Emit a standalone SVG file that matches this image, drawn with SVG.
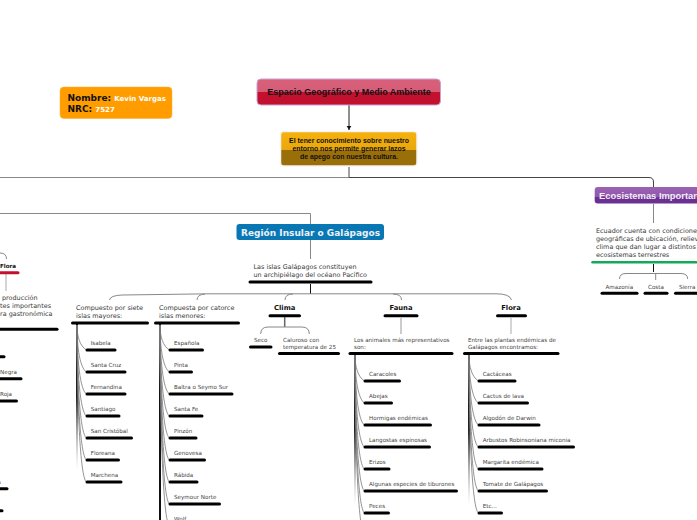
<svg xmlns="http://www.w3.org/2000/svg" width="697" height="520" viewBox="0 0 697 520">
<defs>
<linearGradient id="red" x1="0" y1="0" x2="0" y2="1"><stop offset="0" stop-color="#d8607a"/><stop offset=".5" stop-color="#d45c76"/><stop offset=".5" stop-color="#c2102f"/><stop offset="1" stop-color="#c2102f"/></linearGradient>
<linearGradient id="amber" x1="0" y1="0" x2="0" y2="1"><stop offset="0" stop-color="#f6b20e"/><stop offset=".53" stop-color="#e9a70c"/><stop offset=".53" stop-color="#9a6e08"/><stop offset="1" stop-color="#9a6e08"/></linearGradient>
<linearGradient id="purple" x1="0" y1="0" x2="0" y2="1"><stop offset="0" stop-color="#9b62b4"/><stop offset=".6" stop-color="#9058aa"/><stop offset=".6" stop-color="#6c2f92"/><stop offset="1" stop-color="#6c2f92"/></linearGradient>
<linearGradient id="tA" gradientUnits="userSpaceOnUse" x1="0" y1="324" x2="0" y2="470"><stop offset="0" stop-color="#111"/><stop offset=".5" stop-color="#222"/><stop offset="1" stop-color="#999" stop-opacity="0"/></linearGradient>
<linearGradient id="tB" gradientUnits="userSpaceOnUse" x1="0" y1="355" x2="0" y2="505"><stop offset="0" stop-color="#111"/><stop offset=".5" stop-color="#222"/><stop offset="1" stop-color="#999" stop-opacity="0"/></linearGradient>
<marker id="arrow" markerUnits="userSpaceOnUse" markerWidth="6" markerHeight="6" refX="4" refY="3" orient="auto"><path d="M0,0.7 L4,3 L0,5.3 Z" fill="#111"/></marker>
</defs>
<style>
text{font-family:"DejaVu Sans",Verdana,sans-serif;fill:#444}
.s{font-size:5.6px}
.m{font-size:6.45px;fill:#3a3a3a}
.h{font-size:6.8px;font-weight:bold;fill:#111}
.a{font-family:"Liberation Sans",Arial,sans-serif;font-weight:bold;fill:#111}
.u{stroke:#000;stroke-width:3;stroke-linecap:round;fill:none}
.c{stroke:#888;stroke-width:1;fill:none}
.f{stroke:#777;stroke-width:.8;fill:none}
.t{stroke:#111;stroke-width:2;fill:none}
</style>
<rect width="697" height="520" fill="#fff"/>
<g id="connectors">
<path d="M349 105V130" stroke="#444" stroke-width="1.200" fill="none" marker-end="url(#arrow)"/>
<path d="M349 167V177.500H649Q653.500 177.500 653.500 182V187" stroke="#444" stroke-width="1" fill="none"/>
<path d="M0 177.500H349" stroke="#888" stroke-width="1" fill="none"/>
<path d="M0 213.500H310.500V224" class="c"/>
<path d="M310.500 240V259" class="c"/>
<path d="M310.500 284V294" stroke="#111" stroke-width="1" fill="none"/>
<path d="M109.500 300Q110 295.500 122 295L210 293.800H496Q510 293.800 511.500 300M197 300Q197 294.500 205 294M285 300Q285 294 293 294M393 294Q401.500 294 401.500 300" class="c"/>
<path d="M284.700 317V327" stroke="#666" stroke-width="1.500" fill="none"/>
<path d="M260.700 334Q260.700 327 268 327H302Q309.300 327 309.300 334" class="c"/>
<path d="M401 318V334" stroke="#bbb" stroke-width="1.500" fill="none"/>
<path d="M511 318V334" stroke="#aaa" stroke-width="1" fill="none"/>
<path d="M0 253Q6.500 253 6.500 259" class="c"/>
<path d="M6 274V291" stroke="#aaa" stroke-width="1" fill="none"/>
<path d="M653.500 204V223" class="c"/>
<path d="M653.500 264V272" stroke="#111" stroke-width="1" fill="none"/>
<path d="M619.500 279Q619.500 273.500 626 273.500H681Q687.700 273.500 687.700 279M655.700 273.500V280" class="c"/>
<path d="M77 324V470" stroke="url(#tA)" stroke-width="2" fill="none"/>
<path d="M160 324V520" class="t"/>
<path d="M355 355V505" stroke="url(#tB)" stroke-width="2" fill="none"/>
<path d="M469 355V505" stroke="url(#tB)" stroke-width="2" fill="none"/>
<path class="f" d="M77 325C77 337 80 346 86.500 350M77 325C77 348 80 368 86.500 372M77 325C77 359 80 390 86.500 394M77 325C77 370 80 412 86.500 416M77 325C77 381 80 434 86.500 438M77 325C77 392 80 456 86.500 460M77 325C77 403 80 478 86.500 482"/>
<path class="f" d="M160 325C160 337 163 346 169.500 350M160 325C160 348 163 368 169.500 372M160 325C160 359 163 390 169.500 394M160 325C160 370 163 412 169.500 416M160 325C160 381 163 434 169.500 438M160 325C160 392 163 456 169.500 460M160 325C160 403 163 478 169.500 482M160 325C160 414 163 500 169.500 504M160 325C160 425 163 522 169.500 526"/>
<path class="f" d="M355 355C355 367 358 377 364.500 381M355 355C355 378 358 399 364.500 403M355 355C355 389 358 421 364.500 425M355 355C355 400 358 443 364.500 447M355 355C355 411 358 465 364.500 469M355 355C355 422 358 487 364.500 491M355 355C355 433 358 509 364.500 513M355 355C355 444 358 531 364.500 535"/>
<path class="f" d="M469 355C469 367 472 377 478.500 381M469 355C469 378 472 399 478.500 403M469 355C469 389 472 421 478.500 425M469 355C469 400 472 443 478.500 447M469 355C469 411 472 465 478.500 469M469 355C469 422 472 487 478.500 491M469 355C469 433 472 509 478.500 513"/>
</g>
<g id="info"><rect x="60" y="87" width="112" height="31.500" rx="4" fill="#ff9c00" stroke="#ffb030" stroke-width=".5"/><text x="67.500" y="101" style="font-size:9px;font-weight:bold;fill:#111">Nombre: <tspan style="font-size:7px;fill:#fff">Kevin Vargas</tspan></text><text x="67.500" y="112" style="font-size:9px;font-weight:bold;fill:#111">NRC: <tspan style="font-size:7px;fill:#fff">7527</tspan></text></g>
<g id="root"><rect x="257" y="79" width="183.500" height="26" rx="4" fill="url(#red)" stroke="#c9a3d0"/><text class="a" x="349" y="95" text-anchor="middle" style="font-size:9px">Espacio Geográfico y Medio Ambiente</text></g>
<g id="intro"><rect x="280.500" y="131.500" width="136.500" height="34.500" rx="3" fill="url(#amber)" stroke="#f4f4f4" stroke-width="1.500"/><text class="a" x="349" y="143" text-anchor="middle" style="font-size:6.900px">El tener conocimiento sobre nuestro</text><text class="a" x="349" y="151" text-anchor="middle" style="font-size:6.900px">entorno nos permite generar lazos</text><text class="a" x="349" y="159" text-anchor="middle" style="font-size:6.900px">de apego con nuestra cultura.</text></g>
<g id="insular"><rect x="236.500" y="224" width="147.500" height="16" rx="3" fill="#0a77b5"/><text x="310.500" y="235.500" text-anchor="middle" style="font-size:9px;font-weight:bold;fill:#e8f2f8">Región Insular o Galápagos</text></g>
<g id="insular-desc"><text class="m" x="253.500" y="269">Las islas Galápagos constituyen</text><text class="m" x="253.500" y="277">un archipiélago del océano Pacífico</text><path class="u" d="M250 282H371"/></g>
<g id="eco"><rect x="594.700" y="187" width="110" height="16.500" rx="3" fill="url(#purple)"/><text class="a" x="599" y="198.500" style="font-size:9.400px;fill:#f4eef8">Ecosistemas Importantes</text></g>
<g id="eco-desc"><text class="m" x="596" y="233">Ecuador cuenta con condiciones</text><text class="m" x="596" y="241">geográficas de ubicación, relieve y</text><text class="m" x="596" y="249">clima que dan lugar a distintos</text><text class="m" x="596" y="257">ecosistemas terrestres</text><path d="M592.500 262.300H710" stroke="#14a85a" stroke-width="2.500" stroke-linecap="round" fill="none"/></g>
<g id="eco-items"><text class="s" x="605.500" y="289">Amazonía</text><path class="u" d="M602 293.300H637"/><text class="s" x="648" y="289">Costa</text><path class="u" d="M645 293.300H667"/><text class="s" x="679" y="289">Sierra</text><path class="u" d="M675.500 293.300H710"/></g>
<g id="flora-left"><text class="s" x="0" y="268" style="font-weight:bold;fill:#111">Flora</text><path d="M-10 272.700H18" stroke="#c2102f" stroke-width="3" stroke-linecap="round"/><text class="m" x="2" y="299.500">producción</text><text class="m" x="0" y="307.500">tes importantes</text><text class="m" x="0" y="315.500">ra gastronómica</text><path class="u" d="M-10 329.300H57"/><path class="u" d="M-10 356.700H4"/><text class="s" x="0" y="374">Negra</text><path class="u" d="M-10 378.700H21"/><text class="s" x="0" y="396">Roja</text><path class="u" d="M-10 401H16.500"/><text class="s" x="-2" y="484">s</text><path class="u" d="M-10 488.700H7"/><path class="u" d="M-10 510.700H2"/></g>
<g id="mayores"><text class="m" x="76" y="310">Compuesto por siete</text><text class="m" x="76" y="318">islas mayores:</text><path class="u" d="M72.500 323H147.500"/>
<text class="s" x="90.700" y="345">Isabela</text><path class="u" d="M87 350H115"/>
<text class="s" x="90.700" y="367">Santa Cruz</text><path class="u" d="M87 372H125"/>
<text class="s" x="90.700" y="389">Fernandina</text><path class="u" d="M87 394H125"/>
<text class="s" x="90.700" y="411">Santiago</text><path class="u" d="M87 416H119"/>
<text class="s" x="90.700" y="433">San Cristóbal</text><path class="u" d="M87 438H131.500"/>
<text class="s" x="90.700" y="455">Floreana</text><path class="u" d="M87 460H118.500"/>
<text class="s" x="90.700" y="477">Marchena</text><path class="u" d="M87 482H121"/></g>
<g id="menores"><text class="m" x="159" y="310">Compuesta por catorce</text><text class="m" x="159" y="318">islas menores:</text><path class="u" d="M155.500 323H238.500"/>
<text class="s" x="174" y="345">Española</text><path class="u" d="M170 350H202.500"/>
<text class="s" x="174" y="367">Pinta</text><path class="u" d="M170 372H191.500"/>
<text class="s" x="174" y="389">Baltra o Seymo Sur</text><path class="u" d="M170 394H232"/>
<text class="s" x="174" y="411">Santa Fe</text><path class="u" d="M170 416H202"/>
<text class="s" x="174" y="433">Pinzón</text><path class="u" d="M170 438H196"/>
<text class="s" x="174" y="455">Genovesa</text><path class="u" d="M170 460H204.500"/>
<text class="s" x="174" y="477">Rábida</text><path class="u" d="M170 482H197"/>
<text class="s" x="174" y="499">Seymour Norte</text><path class="u" d="M170 504H219.500"/>
<text class="s" x="174" y="521">Wolf</text></g>
<g id="clima"><text class="h" x="284.700" y="310" text-anchor="middle">Clima</text><path class="u" d="M270 315.700H299.500"/><text class="s" x="254" y="342">Seco</text><path class="u" d="M250.500 347H271"/><text class="s" x="283" y="342">Caluroso con</text><text class="s" x="283" y="349">temperatura de 25</text><path class="u" d="M279.500 353.500H338.500"/></g>
<g id="fauna"><text class="h" x="401" y="310" text-anchor="middle">Fauna</text><path class="u" d="M385 315.700H417"/><text class="s" x="354" y="342">Los animales más representativos</text><text class="s" x="354" y="349">son:</text><path class="u" d="M350 353.500H452"/>
<text class="s" x="369" y="376">Caracoles</text><path class="u" d="M365 381H399.500"/>
<text class="s" x="369" y="398">Abejas</text><path class="u" d="M365 403H391.500"/>
<text class="s" x="369" y="420">Hormigas endémicas</text><path class="u" d="M365 425H430.500"/>
<text class="s" x="369" y="442">Langostas espinosas</text><path class="u" d="M365 447H429.500"/>
<text class="s" x="369" y="464">Erizos</text><path class="u" d="M365 469H389"/>
<text class="s" x="369" y="486">Algunas especies de tiburones</text><path class="u" d="M365 491H456.500"/>
<text class="s" x="369" y="508">Peces</text><path class="u" d="M365 513H388.500"/></g>
<g id="flora"><text class="h" x="511" y="310" text-anchor="middle">Flora</text><path class="u" d="M497.500 315.700H525.500"/><text class="s" x="468" y="342">Entre las plantas endémicas de</text><text class="s" x="468" y="349">Galápagos encontramos:</text><path class="u" d="M464.500 353.500H558"/>
<text class="s" x="482.700" y="376">Cactáceas</text><path class="u" d="M479 381H515"/>
<text class="s" x="482.700" y="398">Cactus de lava</text><path class="u" d="M479 403H527.500"/>
<text class="s" x="482.700" y="420">Algodón de Darwin</text><path class="u" d="M479 425H539"/>
<text class="s" x="482.700" y="442">Arbustos Robinsoniana miconia</text><path class="u" d="M479 447H573.500"/>
<text class="s" x="482.700" y="464">Margarita endémica</text><path class="u" d="M479 469H542"/>
<text class="s" x="482.700" y="486">Tomate de Galápagos</text><path class="u" d="M479 491H546.500"/>
<text class="s" x="482.700" y="508">Etc...</text><path class="u" d="M479 513H501.500"/></g>
</svg>
